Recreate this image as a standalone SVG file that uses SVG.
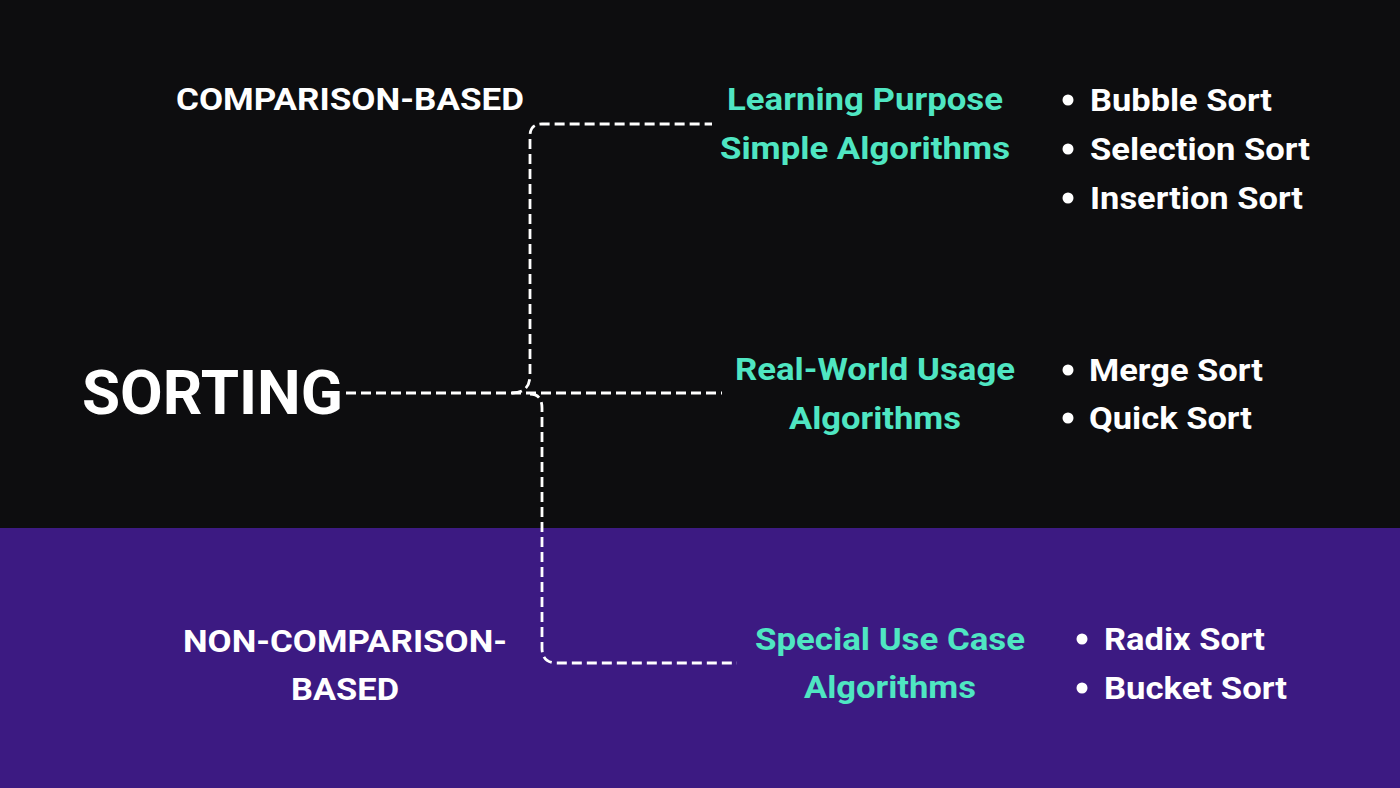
<svg xmlns="http://www.w3.org/2000/svg" width="1400" height="788" viewBox="0 0 1400 788">
<style>
text{font-family:Roboto,"Liberation Sans",sans-serif;font-weight:700;font-size:32px;}
.w{fill:#ffffff;}
.t{fill:#4fe6c2;}
.b{fill:#ffffff;}
.c{fill:none;stroke:#ffffff;stroke-width:2.8;stroke-dasharray:10 5;}
</style>
<rect x="0" y="0" width="1400" height="528" fill="#0d0d0f"/>
<rect x="0" y="528" width="1400" height="260" fill="#3c1a82"/>
<g id="connectors">
<path class="c" d="M346 393 H722"/>
<path class="c" d="M512 393 Q530 393 530 375 V136 Q530 124 542 124 H712"/>
<path class="c" d="M530 394 Q542 394 542 408 V648 Q542 663 557 663 H737"/>
</g>
<g id="sorting"><text class="w" x="82" y="414" style="font-size:62px" textLength="261" lengthAdjust="spacingAndGlyphs">SORTING</text></g>
<g id="comparison"><text class="w" x="176" y="110" style="font-size:31px" textLength="348" lengthAdjust="spacingAndGlyphs">COMPARISON-BASED</text></g>
<g id="noncomparison">
<text class="w" x="183" y="652" textLength="324" lengthAdjust="spacingAndGlyphs">NON-COMPARISON-</text>
<text class="w" x="291" y="700" textLength="108" lengthAdjust="spacingAndGlyphs">BASED</text>
</g>
<g id="learning">
<text class="t" x="727" y="110" textLength="276" lengthAdjust="spacingAndGlyphs">Learning Purpose</text>
<text class="t" x="720" y="159" textLength="290" lengthAdjust="spacingAndGlyphs">Simple Algorithms</text>
</g>
<g id="realworld">
<text class="t" x="735" y="380" textLength="280" lengthAdjust="spacingAndGlyphs">Real-World Usage</text>
<text class="t" x="789" y="429" textLength="172" lengthAdjust="spacingAndGlyphs">Algorithms</text>
</g>
<g id="special">
<text class="t" x="755" y="650" textLength="270" lengthAdjust="spacingAndGlyphs">Special Use Case</text>
<text class="t" x="804" y="698" textLength="172" lengthAdjust="spacingAndGlyphs">Algorithms</text>
</g>
<g id="list1">
<circle class="b" cx="1068" cy="100" r="5.5"/><text class="w" x="1090" y="111" textLength="182" lengthAdjust="spacingAndGlyphs">Bubble Sort</text>
<circle class="b" cx="1068" cy="149" r="5.5"/><text class="w" x="1090" y="160" textLength="220" lengthAdjust="spacingAndGlyphs">Selection Sort</text>
<circle class="b" cx="1068" cy="198" r="5.5"/><text class="w" x="1090" y="209" textLength="213" lengthAdjust="spacingAndGlyphs">Insertion Sort</text>
</g>
<g id="list2">
<circle class="b" cx="1068" cy="370" r="5.5"/><text class="w" x="1089" y="381" textLength="174" lengthAdjust="spacingAndGlyphs">Merge Sort</text>
<circle class="b" cx="1068" cy="418" r="5.5"/><text class="w" x="1089" y="429" textLength="163" lengthAdjust="spacingAndGlyphs">Quick Sort</text>
</g>
<g id="list3">
<circle class="b" cx="1082" cy="639" r="5.5"/><text class="w" x="1104" y="650" textLength="161" lengthAdjust="spacingAndGlyphs">Radix Sort</text>
<circle class="b" cx="1082" cy="688" r="5.5"/><text class="w" x="1104" y="699" textLength="183" lengthAdjust="spacingAndGlyphs">Bucket Sort</text>
</g>
</svg>
